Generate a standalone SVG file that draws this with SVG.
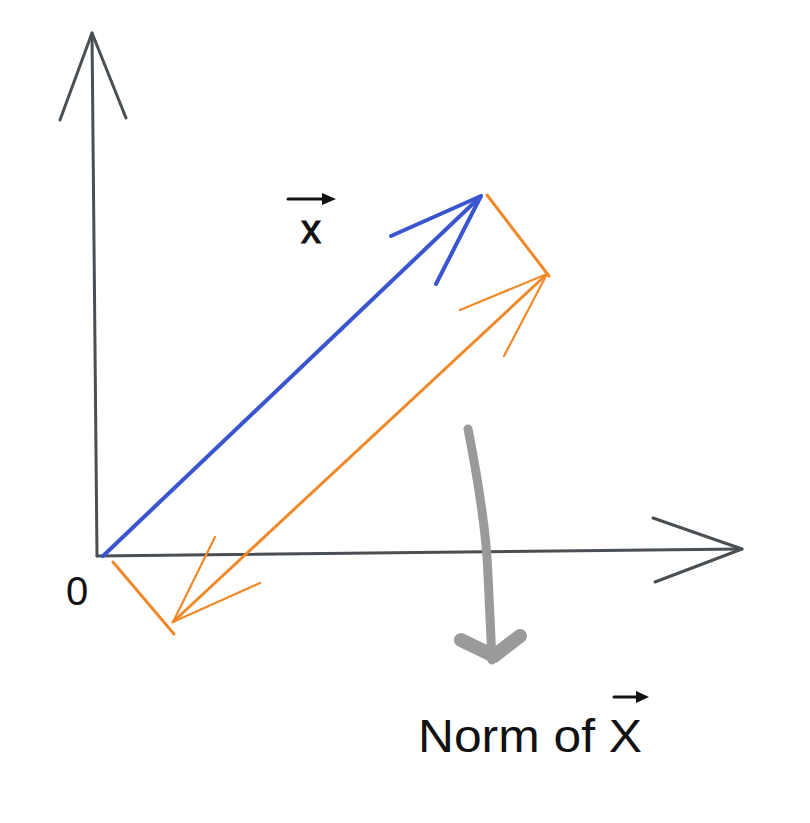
<svg xmlns="http://www.w3.org/2000/svg" width="810" height="823" viewBox="0 0 810 823">
<style>
.axis{stroke:#4a4f54;stroke-width:3;fill:none;stroke-linecap:round;stroke-linejoin:round}
.blue{stroke:#3a55d0;stroke-width:4;fill:none;stroke-linecap:round;stroke-linejoin:round}
.orange{stroke:#f0892a;stroke-width:3;fill:none;stroke-linecap:round;stroke-linejoin:round}
.orange-thin{stroke:#f0892a;stroke-width:2.2;fill:none;stroke-linecap:round;stroke-linejoin:round}
.gray{stroke:#9a9a9a;fill:none;stroke-linecap:round;stroke-linejoin:round}
.lbl{font-family:"Liberation Sans",Arial,sans-serif;fill:#111}
.vec{stroke:#111;stroke-width:3;fill:none;stroke-linecap:round}
</style>
<rect width="810" height="823" fill="#ffffff"/>
<g id="axes">
  <path class="axis" d="M97,556 L92,33"/>
  <path class="axis" d="M60,120 L92,33 L126,118"/>
  <path class="axis" d="M97,556 L742,549"/>
  <path class="axis" d="M653,518 L742,549 L655,582"/>
</g>
<g id="vector-x">
  <path class="blue" d="M103,556 L481,196"/>
  <path class="blue" d="M391,236 L481,196 L436,284"/>
</g>
<g id="norm">
  <path class="orange" d="M487,195 L549,276"/>
  <path class="orange" d="M113,562 L174,634"/>
  <path class="orange" d="M547,274 L173,622"/>
  <path class="orange-thin" d="M460,310 L547,274 L504,356"/>
  <path class="orange-thin" d="M215,537 L173,622 L260,583"/>
</g>
<g id="connectors">
  <path class="gray" stroke-width="9" d="M468,429 Q486,520 488,575 Q490,620 492,660"/>
  <path class="gray" stroke-width="14" d="M461,640 L494,656 L520,636"/>
</g>
<g id="label-x">
  <text class="lbl" x="311" y="243" font-size="40" text-anchor="middle" stroke="#111" stroke-width="1">x</text>
  <path class="vec" d="M288,199 L330,199"/>
  <path d="M322,193 L336,199 L322,205 Z" fill="#111"/>
</g>
<g id="label-0">
  <text class="lbl" x="77" y="605" font-size="40" text-anchor="middle">0</text>
</g>
<g id="label-norm">
  <text class="lbl" x="418" y="752" font-size="46" textLength="224" lengthAdjust="spacingAndGlyphs">Norm of X</text>
  <path class="vec" d="M614,697 L642,697"/>
  <path d="M636,691 L649,697 L636,703 Z" fill="#111"/>
</g>
</svg>
